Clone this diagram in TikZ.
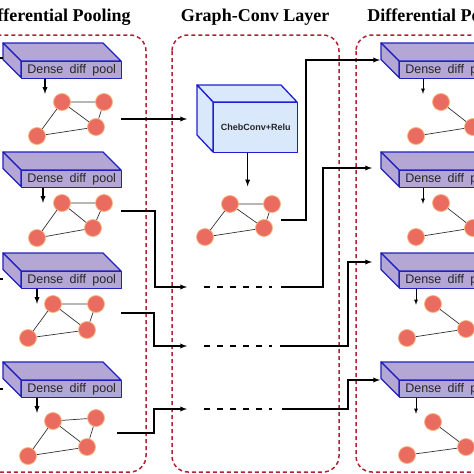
\documentclass[tikz,border=0pt]{standalone}
\usepackage{fontspec}
\setmainfont{Liberation Serif}
\setsansfont{Liberation Sans}
\usetikzlibrary{%
  arrows,%
  calc,%
  positioning%
}
\tikzset{>=latex}
\definecolor{poolfill}{RGB}{180,167,214}
\definecolor{poolline}{RGB}{32,32,190}
\definecolor{convfill}{RGB}{218,232,252}
\definecolor{convline}{RGB}{30,30,215}
\definecolor{vertfill}{RGB}{234,107,95}
\definecolor{vertline}{RGB}{247,182,133}
\definecolor{framered}{RGB}{178,34,52}
\tikzset{
  title/.style={font=\bfseries\fontsize{18}{20}\selectfont,anchor=base},
  frame/.style={draw=framered,line width=1.5pt,dash pattern=on 4pt off 3pt,rounded corners=16pt},
  slab/.style={draw=poolline,fill=poolfill,line width=1.3pt,line join=round},
  poolface/.style={slab,anchor=north west,minimum width=100pt,minimum height=16.5pt,inner sep=0pt,
    font=\sffamily\fontsize{12.5}{14}\selectfont,text=black!85},
  cube/.style={draw=convline,fill=convfill,line width=1.3pt,line join=round},
  cubeface/.style={cube,anchor=north west,minimum width=84pt,minimum height=50pt,inner sep=0pt,
    font=\sffamily\bfseries\fontsize{9}{10}\selectfont,text=black!85},
  vert/.style={circle,fill=vertfill,draw=vertline,line width=0.8pt,minimum size=17pt,inner sep=0pt},
  gedge/.style={draw=black!80,line width=0.7pt},
  link/.style={->,line width=1.3pt},
  thinlink/.style={->,line width=0.8pt},
  gap/.style={line width=1.3pt,dash pattern=on 6pt off 7pt}
}
\newcommand{\poolname}{Dense\hspace{0.5em}diff\hspace{0.5em}pool}

\begin{document}
\begin{tikzpicture}[x=1pt,y=-1pt]
    \useasboundingbox (0,0) rectangle (474,474);
    \clip (0,0) rectangle (474,474);
    % titles
    \node[title] (tleft) at (55,21) {Differential Pooling};
    \node[title] (tmid) at (255,21) {Graph-Conv Layer};
    \node[title] (tright) at (443,21) {Differential Pooling};
    % dashed frames
    \draw[frame] (-20,35) rectangle (146,472);
    \draw[frame] (172,35) rectangle (339,472);
    \draw[frame] (356,35) rectangle (520,472);
    % pooling slabs, left and right
    \foreach \i/\y in {1/61,2/170,3/271,4/380}{
      \draw[slab] (21,\y) -- ++(-18,-18) -- ++(100,0) -- ++(18,18) -- cycle;
      \draw[slab] (21,\y) -- ++(-18,-18) -- ++(0,16.5) -- ++(18,18) -- cycle;
      \node[poolface] (lp\i) at (21,\y) {\poolname};
      \draw[slab] (399,\y) -- ++(-18,-18) -- ++(100,0) -- ++(18,18) -- cycle;
      \draw[slab] (399,\y) -- ++(-18,-18) -- ++(0,16.5) -- ++(18,18) -- cycle;
      \node[poolface] (rp\i) at (399,\y) {\poolname};
    }
    \draw[line width=1.3pt] (0,58) -- (3,58);
    \draw[line width=1.3pt] (0,279) -- (3,279);
    \draw[line width=1.3pt] (0,389) -- (3,389);
    \draw[link] ($(lp1.south west)+(24,0)$) -- ++(0,15);
    \draw[link] ($(lp2.south west)+(22,0)$) -- ++(0,15);
    \draw[link] ($(lp3.south west)+(16,0)$) -- ++(0,15);
    \draw[link] ($(lp4.south west)+(16,0)$) -- ++(0,15);
    \draw[thinlink] ($(rp1.south west)+(24,0)$) -- ++(0,15);
    \draw[thinlink] ($(rp2.south west)+(24,0)$) -- ++(0,16);
    \draw[thinlink] ($(rp3.south west)+(17,0)$) -- ++(0,16);
    \draw[thinlink] ($(rp4.south west)+(17,0)$) -- ++(0,16);
    % left graphs
    \node[vert] (l1a) at (62,102) {}; \node[vert] (l1b) at (104,102) {};
    \node[vert] (l1c) at (96,127) {}; \node[vert] (l1d) at (37,136) {};
    \node[vert] (l2a) at (62,203) {}; \node[vert] (l2b) at (104,203) {};
    \node[vert] (l2c) at (93,228) {}; \node[vert] (l2d) at (37,238) {};
    \node[vert] (l3a) at (53,304) {}; \node[vert] (l3b) at (96,304) {};
    \node[vert] (l3c) at (87,330) {}; \node[vert] (l3d) at (28,338) {};
    \node[vert] (l4a) at (53,421) {}; \node[vert] (l4b) at (96,418) {};
    \node[vert] (l4c) at (87,447) {}; \node[vert] (l4d) at (28,456) {};
    \foreach \g in {l1,l2,l3,l4}{
      \draw[gedge] (\g a) -- (\g b) -- (\g c) -- (\g d) -- (\g a) (\g a) -- (\g c);
    }
    % graph-conv cube
    \draw[cube] (213,102) -- (197,85) -- (281,85) -- (297,102) -- cycle;
    \draw[cube] (213,102) -- (197,85) -- (197,135) -- (213,152) -- cycle;
    \node[cubeface] (cheb) at (213,102) {ChebConv+Relu};
    \draw[link] ($(cheb.south)+(-8,0)$) -- ++(0,33);
    \node[vert] (ma) at (230,204) {}; \node[vert] (mb) at (272,204) {};
    \node[vert] (mc) at (264,228) {}; \node[vert] (md) at (205,237) {};
    \draw[gedge] (ma) -- (mb) -- (mc) -- (md) -- (ma) (ma) -- (mc);
    % right graphs
    \node[vert] (r1a) at (441,102) {}; \node[vert] (r1b) at (473,127) {}; \node[vert] (r1c) at (416,136) {};
    \node[vert] (r2a) at (441,203) {}; \node[vert] (r2b) at (473,228) {}; \node[vert] (r2c) at (416,237) {};
    \node[vert] (r3a) at (433,304) {}; \node[vert] (r3b) at (466,329) {}; \node[vert] (r3c) at (407,338) {};
    \node[vert] (r4a) at (433,422) {}; \node[vert] (r4b) at (466,447) {}; \node[vert] (r4c) at (407,455) {};
    \foreach \g in {r1,r2,r3,r4}{
      \draw[gedge] (\g a) -- (\g b) -- (\g c) -- cycle;
    }
    % pooling -> graph-conv
    \coordinate (o1) at (121,119); \coordinate (i1) at (187,119);
    \coordinate (o2) at (121,211); \coordinate (i2) at (187,287);
    \coordinate (o3) at (121,313); \coordinate (i3) at (187,346);
    \coordinate (o4) at (117,433); \coordinate (i4) at (187,409);
    \draw[link] (o1) -- (i1);
    \draw[link] (o2) -- ++(34,0) |- (i2);
    \draw[link] (o3) -- ++(33,0) |- (i3);
    \draw[link] (o4) -- ++(37,0) |- (i4);
    % elided layers
    \coordinate (m2) at (281,287); \coordinate (m3) at (280,346); \coordinate (m4) at (282,409);
    \draw[gap] (204,287) -- (272,287);
    \draw[gap] (204,346) -- (272,346);
    \draw[gap] (204,409) -- (272,409);
    % graph-conv -> pooling
    \coordinate (m1) at (281,220);
    \coordinate (q1) at (380,60); \coordinate (q2) at (372,168);
    \coordinate (q3) at (372,262); \coordinate (q4) at (380,380);
    \draw[link] (m1) -- ++(25,0) |- (q1);
    \draw[link] (m2) -- ++(42,0) |- (q2);
    \draw[link] (m3) -- ++(68,0) |- (q3);
    \draw[link] (m4) -- ++(66,0) |- (q4);
\end{tikzpicture}
\end{document}
